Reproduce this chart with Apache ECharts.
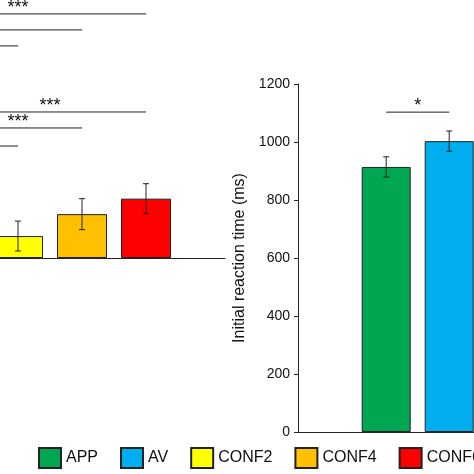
<!DOCTYPE html><html><head><meta charset="utf-8"><script src="https://cdn.jsdelivr.net/npm/echarts@6/dist/echarts.min.js"></script></head><body style="margin:0"><div id="c" style="width:474px;height:474px"></div><script>
const categories=['APP','AV','CONF2','CONF4','CONF6'];
const colors=['#00a651','#00aeef','#ffff00','#ffc000','#ff0000'];
// left panel (arbitrary units), right panel reaction time (ms)
const leftValues=[null,null,8.5,17,23];
const leftErr=[null,null,5.8,6,5.8];
const rightValues=[914,1003];
const rightErr=[35,35];
const yTicks=[0,200,400,600,800,1000,1200];
const leftBrackets=[[0,4,94.6,'***'],[0,3,88.4,'***'],[0,2,82.2,'***'],[1,4,56.6,'***'],[1,3,50.4,'***'],[1,2,43.4,'***']];
const rightBrackets=[[0,1,1103,'*']];
const xPosLeft=[0,1,2,3,4], xPosRight=[1.4,2.4];
const series=[];
categories.forEach((c,i)=>{
  const right=i<2;
  series.push({type:'bar',name:c,xAxisIndex:right?1:0,yAxisIndex:right?1:0,barWidth:right?49:50,barGap:'-100%',
    itemStyle:{color:colors[i],borderColor:'#222',borderWidth:1},
    data:right?[[xPosRight[i],rightValues[i]]]:[[xPosLeft[i],leftValues[i]]]});
});
function errSeries(xi,xs,vals,errs){return {type:'custom',xAxisIndex:xi,yAxisIndex:xi,z:5,
  data:xs.map((x,i)=>[x,vals[i],errs[i]]).filter(d=>d[1]!=null),
  renderItem:(p,api)=>{const x=api.value(0),v=api.value(1),e=api.value(2);
    const a=api.coord([x,v+e]),b=api.coord([x,v-e]);
    const s={stroke:'#222',lineWidth:1};
    return {type:'group',children:[{type:'line',shape:{x1:a[0],y1:a[1],x2:b[0],y2:b[1]},style:s},
      {type:'line',shape:{x1:a[0]-3,y1:a[1],x2:a[0]+3,y2:a[1]},style:s},
      {type:'line',shape:{x1:b[0]-3,y1:b[1],x2:b[0]+3,y2:b[1]},style:s}]};}};}
function brSeries(xi,xs,brs){return {type:'custom',xAxisIndex:xi,yAxisIndex:xi,z:5,clip:false,
  data:brs.map(b=>[xs[b[0]],xs[b[1]],b[2],b[3]]),
  renderItem:(p,api)=>{const a=api.coord([api.value(0),api.value(2)]),b=api.coord([api.value(1),api.value(2)]);
    return {type:'group',children:[{type:'line',shape:{x1:a[0],y1:a[1],x2:b[0],y2:b[1]},style:{stroke:'#222',lineWidth:1}},
      {type:'text',x:(a[0]+b[0])/2,y:a[1]+3,style:{text:brs[p.dataIndex][3],fontSize:18,fill:'#111',align:'center',verticalAlign:'bottom',fontFamily:'Liberation Sans'}}]};}};}
series.push(errSeries(0,xPosLeft,leftValues,leftErr),errSeries(1,xPosRight,rightValues,rightErr),
  brSeries(0,xPosLeft,leftBrackets),brSeries(1,xPosRight,rightBrackets));
const ch=echarts.init(document.getElementById('c'));
ch.setOption({animation:false,textStyle:{fontFamily:'Liberation Sans'},
 grid:[{left:0,top:0,width:225,height:258},{left:298,top:84,width:176,height:348}],
 xAxis:[{type:'value',gridIndex:0,min:2-18/64,max:2-18/64+225/64,axisLabel:{show:false},axisTick:{show:false},splitLine:{show:false},axisLine:{onZero:false,lineStyle:{color:'#222'}}},
  {type:'value',gridIndex:1,min:0,max:176/63,axisLabel:{show:false},axisTick:{show:false},splitLine:{show:false},axisLine:{onZero:false,lineStyle:{color:'#222'}}}],
 yAxis:[{type:'value',gridIndex:0,min:0,max:100,show:false},
  {type:'value',gridIndex:1,min:0,max:1200,interval:200,name:'Initial reaction time (ms)',nameLocation:'middle',nameGap:50,nameTextStyle:{fontSize:16,color:'#111'},
   axisLine:{show:true,lineStyle:{color:'#222'}},axisTick:{show:true,inside:false,length:4},axisLabel:{fontSize:14,color:'#111',formatter:v=>String(v)},splitLine:{show:false}}],
 legend:{left:33,bottom:0,width:800,itemWidth:22,itemHeight:20,itemGap:22,icon:'rect',textStyle:{fontSize:16,color:'#111'},data:categories},
 series});
</script></body></html>
